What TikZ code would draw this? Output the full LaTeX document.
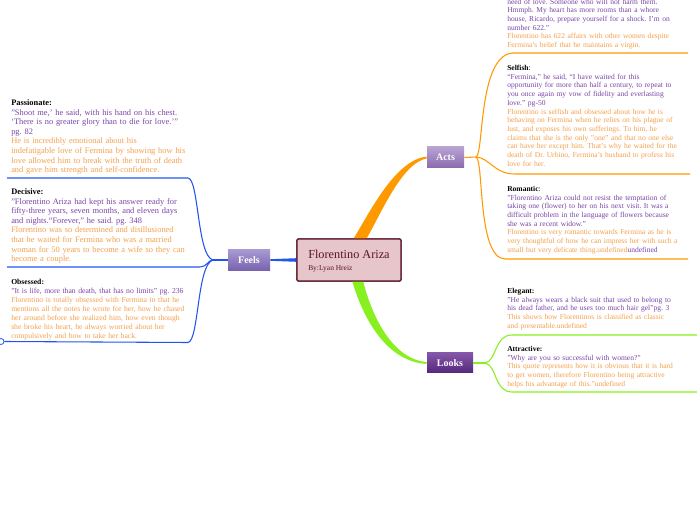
\documentclass[tikz,border=0pt]{standalone}
\usepackage{fontspec}
\setmainfont{Liberation Serif}
\usetikzlibrary{calc}
\definecolor{ptxt}{HTML}{7A44A8}
\definecolor{otxt}{HTML}{F5A04A}
\definecolor{actsc}{HTML}{FF9900}
\definecolor{looksc}{HTML}{88F020}
\definecolor{feelsc}{HTML}{2255F0}
\definecolor{cfill}{HTML}{E6C6CA}
\definecolor{cdraw}{HTML}{5A1428}
\definecolor{actstop}{HTML}{B8A2D2}
\definecolor{actsbot}{HTML}{8A6AAE}
\definecolor{feelstop}{HTML}{AA9AD2}
\definecolor{feelsbot}{HTML}{7662AE}
\definecolor{lookstop}{HTML}{8456A8}
\definecolor{looksbot}{HTML}{56287C}
\begin{document}
\frenchspacing
\begin{tikzpicture}[x=0.75pt,y=-0.75pt,
  rblk/.style={anchor=north west, inner sep=0pt, align=left, text width=260pt, font=\fontsize{5.65}{6.52}\selectfont\frenchspacing},
  lblk/.style={anchor=north west, inner sep=0pt, align=left, text width=260pt, font=\fontsize{6.3}{7.18}\selectfont\frenchspacing},
  oblk/.style={anchor=north west, inner sep=0pt, align=left, text width=260pt, font=\fontsize{5.75}{6.75}\selectfont\frenchspacing},
  topic/.style={minimum width=#1, minimum height=15.75pt, inner sep=0pt, text=white, font=\fontsize{7.5}{8}\selectfont\bfseries},
  cbox/.style={draw=cdraw, fill=cfill, line width=0.9pt, rounded corners=1pt, minimum width=78pt, minimum height=31.5pt, inner sep=0pt},
  actsline/.style={draw=actsc, line width=0.8pt},
  looksline/.style={draw=looksc, line width=0.8pt},
  feelsline/.style={draw=feelsc, line width=0.8pt}]
\useasboundingbox (0,0) rectangle (697,520);
\fill[white] (0,0) rectangle (697,520);

% topic boxes
\node[cbox] (cn) at (349,260) {};
\node[topic=27.75pt, top color=actstop, bottom color=actsbot] (Acts) at (445.5,157.5) {Acts};
\node[topic=31.5pt, top color=feelstop, bottom color=feelsbot] (Feels) at (249,260) {Feels};
\node[topic=34.5pt, minimum height=15pt, top color=lookstop, bottom color=looksbot] (Looks) at (450,363) {Looks};

% main branches
\fill[actsc] (353,239.5) .. controls (370,212) and (395,160) .. ([yshift=0.7pt]Acts.west)
  -- ([yshift=-0.7pt]Acts.west) .. controls (402,163) and (382,212) .. (366,239.5) -- cycle;
\fill[looksc] (352,280.5) .. controls (365,325) and (390,362) .. ([yshift=-0.7pt]Looks.west)
  -- ([yshift=0.7pt]Looks.west) .. controls (397,360) and (374,325) .. (363,280.5) -- cycle;
\fill[feelsc] ($(cn.west)+(0,-1.8)$) -- ([yshift=0.6pt]Feels.east) -- ([yshift=-0.6pt]Feels.east) -- ($(cn.west)+(0,1.8)$) -- cycle;
\node[cbox] at (cn) {};
\node[anchor=west, inner sep=0pt, text=cdraw, font=\fontsize{9.2}{10}\selectfont] (ctitle) at (308,254) {Florentino Ariza};
\node[anchor=west, inner sep=0pt, text=cdraw, font=\fontsize{5.6}{6}\selectfont] (csub) at (308,269) {By:Lyan Hreiz};

% Acts sub-branches
\coordinate (JA) at (476,157);
\coordinate (uA1) at (512,53);  \coordinate (uA1e) at (688,53);
\coordinate (uA2) at (515,174); \coordinate (uA2e) at (690,174);
\coordinate (uA3) at (505,259); \coordinate (uA3e) at (688,259);
\draw[actsline] (Acts.east) -- (JA);
\draw[actsline] (JA) .. controls (484,154) and (478,57) .. (uA1) -- (uA1e);
\draw[actsline] (JA) .. controls (490,158) and (494,174) .. (uA2) -- (uA2e);
\draw[actsline] (JA) .. controls (484,160) and (477,258) .. (uA3) -- (uA3e);

% Looks sub-branches
\coordinate (JL) at (485,363);
\coordinate (uL1) at (512,335); \coordinate (uL1e) at (697,335);
\coordinate (uL2) at (512,392); \coordinate (uL2e) at (697,392);
\draw[looksline] (Looks.east) -- (JL);
\draw[looksline] (JL) .. controls (497,361) and (494,335) .. (uL1) -- (uL1e);
\draw[looksline] (JL) .. controls (497,365) and (494,392) .. (uL2) -- (uL2e);

% Feels sub-branches
\coordinate (JF) at (213,260);
\coordinate (uF1s) at (7,178); \coordinate (uF1) at (188,178);
\coordinate (uF2s) at (7,267); \coordinate (uF2) at (200,267);
\coordinate (uF3) at (188,342.5);
\node[circle, draw=feelsc, fill=white, line width=0.6pt, inner sep=0pt, minimum size=4.5pt] (oc) at (1,341.5) {};
\draw[feelsc, line width=1.2pt] (Feels.west) -- (JF);
\draw[feelsline] (uF1s) -- (uF1) .. controls (199,179) and (197,256) .. (JF);
\draw[feelsline] (uF2s) -- (uF2) .. controls (207,267) and (208,260) .. (JF);
\draw[feelsline] (oc.east) -- (uF3) .. controls (199,341) and (197,264) .. (JF);

% text blocks right
\node[rblk] (tTop) at (507,-1.5) {\color{ptxt}need of love. Someone who will not harm them.\\
Hmmph. My heart has more rooms than a whore\\
house, Ricardo, prepare yourself for a shock. I'm on\\
number 622."\\
\color{otxt}Florentino has 622 affairs with other women despite\\
Fermina's belief that he maintains a virgin.};

\node[rblk] (tSelfish) at (507,65) {{\bfseries Selfish}:\\
\color{ptxt}``Fermina,'' he said, ``I have waited for this\\
opportunity for more than half a century, to repeat to\\
you once again my vow of fidelity and everlasting\\
love.'' pg-50\\
\color{otxt}Florentino is selfish and obsessed about how he is\\
behaving on Fermina when he relies on his plague of\\
lust, and exposes his own sufferings. To him, he\\
claims that she is the only "one" and that no one else\\
can have her except him. That's why he waited for the\\
death of Dr. Urbino, Fermina's husband to profess his\\
love for her.};

\node[rblk] (tRomantic) at (507,186) {{\bfseries Romantic}:\\
\color{ptxt}"Florentino Ariza could not resist the temptation of\\
taking one (flower) to her on his next visit. It was a\\
difficult problem in the language of flowers because\\
she was a recent widow."\\
\color{otxt}Florentino is very romantic towards Fermina as he is\\
very thoughtful of how he can impress her with such a\\
small but very delicate thing.undefined\textcolor{ptxt}{undefined}};

\node[rblk] (tElegant) at (507,288) {{\bfseries Elegant:}\\
\color{ptxt}"He always wears a black suit that used to belong to\\
his dead father, and he uses too much hair gel"pg. 3\\
\color{otxt}This shows how Florentinos is classified as classic\\
and presentable.undefined};

\node[rblk] (tAttractive) at (507,346) {{\bfseries Attractive:}\\
\color{ptxt}"Why are you so successful with women?"\\
\color{otxt}This quote represents how it is obvious that it is hard\\
to get women, therefore Florentino being attractive\\
helps his advantage of this."undefined};

% text blocks left
\node[lblk] (tPassionate) at (11,99.5) {{\bfseries Passionate:}\\
\color{ptxt}"Shoot me,' he said, with his hand on his chest.\\
`There is no greater glory than to die for love.'"\\
pg. 82\\
\color{otxt}He is incredibly emotional about his\\
indefatigable love of Fermina by showing how his\\
love allowed him to break with the truth of death\\
and gave him strength and self-confidence.};

\node[lblk] (tDecisive) at (11,188.5) {{\bfseries Decisive:}\\
\color{ptxt}"Florentino Ariza had kept his answer ready for\\
fifty-three years, seven months, and eleven days\\
and nights.``Forever,'' he said. pg. 348\\
\color{otxt}Florentino was so determined and disillusioned\\
that he waited for Fermina who was a married\\
woman for 50 years to become a wife so they can\\
become a couple.};

\node[oblk] (tObsessed) at (11,278.5) {{\bfseries Obsessed:}\\
\color{ptxt}"It is life, more than death, that has no limits" pg. 236\\
\color{otxt}Florentino is totally obsessed with Fermina in that he\\
mentions all the notes he wrote for her, how he chased\\
her around before she realized him, how even though\\
she broke his heart, he always worried about her\\
compulsively and how to take her back.};
\end{tikzpicture}
\end{document}
